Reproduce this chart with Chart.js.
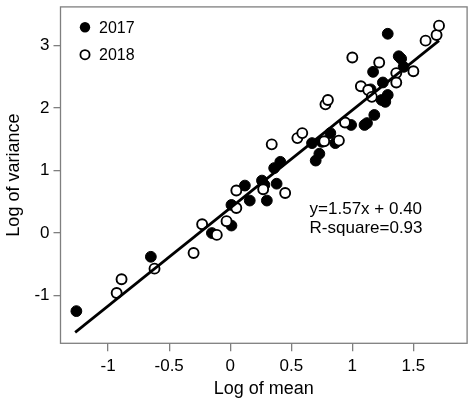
<!DOCTYPE html>
<html>
<head>
<meta charset="utf-8">
<script src="https://cdn.jsdelivr.net/npm/chart.js@4.4.1/dist/chart.umd.min.js"></script>
<style>
  html, body { margin: 0; padding: 0; background: #ffffff; }
  #wrap { width: 474px; height: 402px; }
</style>
</head>
<body>
<div id="wrap"><canvas id="c" width="474" height="402"></canvas></div>
<script>
// ---- data ----
const seriesNames = ['2017', '2018'];
const x2017 = [-1.26, -0.65, -0.15, 0.01, 0.01, 0.12, 0.16, 0.26, 0.28, 0.30, 0.36, 0.41, 0.38,
               0.67, 0.70, 0.73, 0.75, 0.82, 0.86, 0.99, 1.10, 1.12, 1.18, 1.15, 1.17, 1.25,
               1.29, 1.24, 1.27, 1.29, 1.38, 1.40, 1.42];
const y2017 = [-1.25, -0.38, 0.00, 0.12, 0.45, 0.76, 0.52, 0.84, 0.77, 0.52, 1.04, 1.14, 0.79,
               1.44, 1.16, 1.27, 1.46, 1.60, 1.44, 1.73, 1.73, 1.76, 1.89, 2.30, 2.58, 2.41,
               2.21, 2.13, 2.10, 3.19, 2.83, 2.79, 2.66];
const x2018 = [-0.93, -0.89, -0.62, -0.30, -0.23, -0.11, -0.03, 0.05, 0.05, 0.27, 0.45, 0.34,
               0.55, 0.59, 0.78, 0.80, 0.77, 0.89, 0.94, 1.00, 1.07, 1.13, 1.16, 1.22, 1.36,
               1.36, 1.50, 1.60, 1.69, 1.71];
const y2018 = [-0.96, -0.74, -0.57, -0.32, 0.14, -0.03, 0.19, 0.40, 0.68, 0.70, 0.64, 1.42,
               1.52, 1.60, 2.06, 2.13, 1.47, 1.48, 1.77, 2.81, 2.35, 2.29, 2.18, 2.73, 2.56,
               2.41, 2.59, 3.08, 3.17, 3.32];
const fitX = [-1.27, 1.71];
const fitY = [-1.59, 3.08];
const xTicks = [-1, -0.5, 0, 0.5, 1, 1.5];
const yTicks = [-1, 0, 1, 2, 3];
const xRange = [-1.39, 1.94];
const yRange = [-1.765, 3.62];
const xTitle = 'Log of mean';
const yTitle = 'Log of variance';
const annotationLines = ['y=1.57x + 0.40', 'R-square=0.93'];

// ---- build ----
const pts = (xs, ys) => xs.map((x, i) => ({ x: x, y: ys[i] }));
const FONT = "'Liberation Sans', Arial, sans-serif";
const AXIS_GRAY = '#7f7f7f';

const frame = {
  id: 'frame',
  afterDraw(chart) {
    const { ctx, chartArea: a } = chart;
    ctx.save();
    ctx.strokeStyle = AXIS_GRAY;
    ctx.lineWidth = 1.3;
    ctx.strokeRect(a.left, a.top, a.right - a.left, a.bottom - a.top);
    ctx.restore();
  }
};

const insideLegend = {
  id: 'insideLegend',
  afterDraw(chart) {
    const { ctx, chartArea: a } = chart;
    ctx.save();
    ctx.font = '16px ' + FONT;
    ctx.textBaseline = 'middle';
    ctx.fillStyle = '#000';
    [0, 1].forEach(i => {
      const ds = chart.data.datasets[i];
      const cx = a.left + 24.5, cy = a.top + 20.3 + i * 27.5;
      ctx.beginPath();
      ctx.arc(cx, cy, i === 0 ? 5.2 : 4.6, 0, Math.PI * 2);
      ctx.fillStyle = ds.backgroundColor;
      ctx.fill();
      if (i === 1) { ctx.lineWidth = 1.8; ctx.strokeStyle = '#000'; ctx.stroke(); }
      ctx.fillStyle = '#000';
      ctx.fillText(ds.label, cx + 14, cy + 1);
    });
    ctx.restore();
  }
};

const fitLabel = {
  id: 'fitLabel',
  afterDraw(chart) {
    const { ctx } = chart;
    const xs = chart.scales.x, ys = chart.scales.y;
    ctx.save();
    ctx.font = '17px ' + FONT;
    ctx.fillStyle = '#000';
    ctx.textBaseline = 'alphabetic';
    const px = xs.getPixelForValue(0.65);
    const py = ys.getPixelForValue(0.30);
    annotationLines.forEach((t, i) => ctx.fillText(t, px, py + i * 19.2));
    ctx.restore();
  }
};

const noPad = s => { s.paddingTop = 0; s.paddingBottom = 0; s.paddingLeft = 0; s.paddingRight = 0; };

new Chart(document.getElementById('c'), {
  type: 'scatter',
  data: {
    datasets: [
      { label: seriesNames[0], data: pts(x2017, y2017), backgroundColor: '#000', borderColor: '#000',
        borderWidth: 1, pointRadius: 5.4, pointHoverRadius: 5.4, order: 3 },
      { label: seriesNames[1], data: pts(x2018, y2018), backgroundColor: '#fff', borderColor: '#000',
        borderWidth: 1.9, pointRadius: 5.0, pointHoverRadius: 5.0, order: 2 },
      { type: 'line', label: 'fit', data: pts(fitX, fitY), borderColor: '#000', borderWidth: 2.7,
        pointRadius: 0, fill: false, order: 1 }
    ]
  },
  options: {
    responsive: false,
    animation: false,
    events: [],
    layout: { padding: { top: 4, right: 5, left: 0, bottom: 0 } },
    plugins: { legend: { display: false }, tooltip: { enabled: false } },
    scales: {
      x: {
        type: 'linear', position: 'bottom', min: xRange[0], max: xRange[1],
        afterBuildTicks: s => { s.ticks = xTicks.map(v => ({ value: v })); },
        afterFit: s => { s.height = 58.7; noPad(s); },
        grid: { display: true, drawOnChartArea: false, drawTicks: true, tickLength: 8, color: AXIS_GRAY, lineWidth: 1.3 },
        border: { display: false },
        ticks: { color: '#000', font: { family: FONT, size: 17 }, padding: 5, maxRotation: 0, autoSkip: false,
                 callback: v => String(v) },
        title: { display: true, text: xTitle, color: '#000', font: { family: FONT, size: 18 }, padding: { top: 0, bottom: 2.5 } }
      },
      y: {
        type: 'linear', position: 'left', min: yRange[0], max: yRange[1],
        afterBuildTicks: s => { s.ticks = yTicks.map(v => ({ value: v })); },
        afterFit: s => { s.width = 60.5; noPad(s); },
        grid: { display: true, drawOnChartArea: false, drawTicks: true, tickLength: 7, color: AXIS_GRAY, lineWidth: 1.3 },
        border: { display: false },
        ticks: { color: '#000', font: { family: FONT, size: 17 }, padding: 4, autoSkip: false,
                 callback: v => String(v) },
        title: { display: true, text: yTitle, color: '#000', font: { family: FONT, size: 18 }, padding: { top: 3.2, bottom: 0 } }
      }
    }
  },
  plugins: [frame, insideLegend, fitLabel]
});
</script>
</body>
</html>
